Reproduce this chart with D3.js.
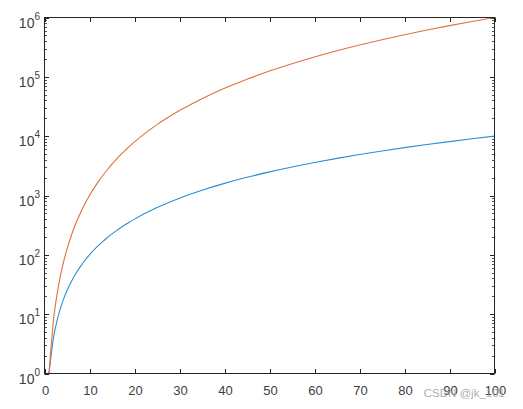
<!DOCTYPE html>
<html><head><meta charset="utf-8">
<script src="https://cdn.jsdelivr.net/npm/d3@7"></script>
<style>body{margin:0;background:#fff}</style>
</head><body><svg id="c" width="523" height="409"></svg>
<script>
const xs = [1,2,3,4,5,6,7,8,9,10,11,12,13,14,15,16,17,18,19,20,25,30,35,40,45,50,55,60,65,70,75,80,85,90,95,100];
const ySquare = [1,4,9,16,25,36,49,64,81,100,121,144,169,196,225,256,289,324,361,400,625,900,1225,1600,2025,2500,3025,3600,4225,4900,5625,6400,7225,8100,9025,10000];
const yCube = [1,8,27,64,125,216,343,512,729,1000,1331,1728,2197,2744,3375,4096,4913,5832,6859,8000,15625,27000,42875,64000,91125,125000,166375,216000,274625,343000,421875,512000,614125,729000,857375,1000000];
const xTicks = [0,10,20,30,40,50,60,70,80,90,100];
const yExponents = [0,1,2,3,4,5,6];
const colors = ["#2b8fd3","#e2703f"];

const svg = d3.select("#c");
const L=44.5, R=494.5, T=17.5, B=373.5;
const x = d3.scaleLinear().domain([0,100]).range([L,R]);
const y = d3.scaleLog().domain([1,1e6]).range([B,T]);
const ink="#262626", txt="#404040";
const font="Liberation Sans, Arial, Helvetica, sans-serif";

const g = svg.append("g");
for (let e=0;e<6;e++){
  for (let m=2;m<=9;m++){
    const v=m*Math.pow(10,e), yy=Math.round(y(v))+0.5;
    g.append("line").attr("x1",L).attr("x2",L+2.5).attr("y1",yy).attr("y2",yy).attr("stroke",ink).attr("stroke-width",0.8);
    g.append("line").attr("x1",R).attr("x2",R-2.5).attr("y1",yy).attr("y2",yy).attr("stroke",ink).attr("stroke-width",0.8);
  }
}
yExponents.forEach(e=>{
  const yy=Math.round(y(Math.pow(10,e)))+0.5;
  g.append("line").attr("x1",L).attr("x2",L+4.5).attr("y1",yy).attr("y2",yy).attr("stroke",ink);
  g.append("line").attr("x1",R).attr("x2",R-4.5).attr("y1",yy).attr("y2",yy).attr("stroke",ink);
  const t=g.append("text").attr("x",L-4.5).attr("y",yy+9.5).attr("text-anchor","end").attr("fill",txt)
    .attr("font-family",font).attr("font-size",14);
  t.append("tspan").text("10");
  t.append("tspan").attr("dy",-8).attr("font-size",10).text(e);
});
xTicks.forEach(v=>{
  const xx=Math.round(x(v))+0.5;
  g.append("line").attr("x1",xx).attr("x2",xx).attr("y1",B).attr("y2",B-4.5).attr("stroke",ink);
  g.append("line").attr("x1",xx).attr("x2",xx).attr("y1",T).attr("y2",T+4.5).attr("stroke",ink);
  g.append("text").attr("x",xx).attr("y",B+21).attr("text-anchor","middle").attr("fill",txt)
    .attr("font-family",font).attr("font-size",13).text(v);
});

const line = d3.line().x(d=>x(d[0])).y(d=>y(d[1])).curve(d3.curveMonotoneX);
svg.append("path").datum(xs.map((v,i)=>[v,ySquare[i]])).attr("d",line).attr("fill","none").attr("stroke",colors[0]).attr("stroke-width",1.1);
svg.append("path").datum(xs.map((v,i)=>[v,yCube[i]])).attr("d",line).attr("fill","none").attr("stroke",colors[1]).attr("stroke-width",1.1);

svg.append("rect").attr("x",L).attr("y",T).attr("width",R-L).attr("height",B-T).attr("fill","none").attr("stroke",ink).attr("stroke-width",1);

svg.append("text").attr("x",505).attr("y",397).attr("text-anchor","end").attr("fill","#9a9a9a").attr("fill-opacity",0.85)
  .attr("font-family",font).attr("font-size",11.5).text("CSDN @jk_101");
</script></body></html>
